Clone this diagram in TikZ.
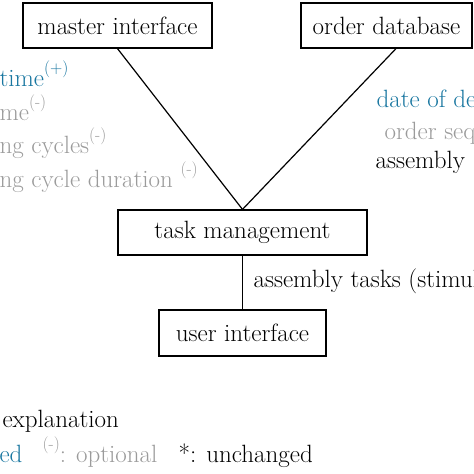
\documentclass[tikz,border=0pt]{standalone}
\usepackage{fontspec}
\definecolor{newblue}{RGB}{24,118,160}
\definecolor{optgray}{RGB}{155,155,155}
\newcommand{\supmark}[1]{\raisebox{13pt}{\fontsize{17}{17}\selectfont #1}}
\begin{document}
\begin{tikzpicture}[x=1pt, y=-1pt, line width=1.2pt]
  \tikzset{ every node/.style={font=\fontsize{25}{30}\selectfont},
            box/.style={draw, minimum height=45pt, inner sep=0pt},
            lbl/.style={anchor=base west, inner sep=0pt} };
  \useasboundingbox (0,0) rectangle (474,474);
  % system blocks
  \node[box, minimum width=189pt] (master) at (117.5,25.5) {master interface};
  \node[box, minimum width=171pt] (order) at (386.5,25.5) {order database};
  \node[box, minimum width=249pt] (task) at (242.5,232.5) {task management};
  \node[box, minimum width=167pt, minimum height=46pt] (user) at (242.5,333) {user interface};
  \draw (master.south) -- (task.north);
  \draw ([xshift=9.5pt]order.south) -- (task.north);
  \draw (task.south) -- (user.north);
  % flows from master interface
  \node[lbl, text=newblue] (mtime) at (-1,86) {time\supmark{(+)}};
  \node[lbl, text=optgray] (mname) at (-1,120) {me\supmark{(-)}};
  \node[lbl, text=optgray] (mcyc) at (-1,153) {ng cycles\supmark{(-)}};
  \node[lbl, text=optgray] (mdur) at (-1,187) {ng cycle duration \supmark{(-)}};
  % flows from order database
  \node[lbl, text=newblue] (odate) at (376,107) {date of del};
  \node[lbl, text=optgray] (oseq) at (384,139) {order seq};
  \node[lbl] (oasm) at (375,168) {assembly};
  % flow to user interface
  \node[lbl] (tasks) at (253,287) {assembly tasks (stimul};
  % legend
  \node[lbl] (expl) at (2,427) {explanation};
  \node[lbl, text=newblue] (lnew) at (-1,462) {ed};
  \node[lbl, text=optgray] (lopt) at (42,462) {\supmark{(-)}: optional};
  \node[lbl] (lunch) at (178,462) {*: unchanged};
\end{tikzpicture}
\end{document}
